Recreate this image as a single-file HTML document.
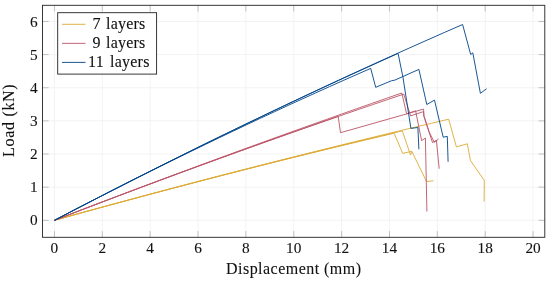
<!DOCTYPE html>
<html><head><meta charset="utf-8"><title>Load vs Displacement</title>
<style>html,body{margin:0;padding:0;background:#fff}svg text{font-family:"Liberation Serif", serif;fill:#111;stroke:#111;stroke-width:0.1px}</style>
</head><body>
<svg width="550" height="281" viewBox="0 0 550 281" style="display:block">
<rect width="550" height="281" fill="#fff"/>
<path d="M54.45,5.3V237.3M102.31,5.3V237.3M150.17,5.3V237.3M198.03,5.3V237.3M245.89,5.3V237.3M293.75,5.3V237.3M341.61,5.3V237.3M389.47,5.3V237.3M437.33,5.3V237.3M485.19,5.3V237.3M533.05,5.3V237.3M42.45,220.30H544.8M42.45,187.16H544.8M42.45,154.02H544.8M42.45,120.88H544.8M42.45,87.74H544.8M42.45,54.60H544.8M42.45,21.46H544.8" stroke="#ebebeb" stroke-width="0.6" fill="none"/>
<path d="M54.45,237.3v-6.2M54.45,5.3v6.2M102.31,237.3v-6.2M102.31,5.3v6.2M150.17,237.3v-6.2M150.17,5.3v6.2M198.03,237.3v-6.2M198.03,5.3v6.2M245.89,237.3v-6.2M245.89,5.3v6.2M293.75,237.3v-6.2M293.75,5.3v6.2M341.61,237.3v-6.2M341.61,5.3v6.2M389.47,237.3v-6.2M389.47,5.3v6.2M437.33,237.3v-6.2M437.33,5.3v6.2M485.19,237.3v-6.2M485.19,5.3v6.2M533.05,237.3v-6.2M533.05,5.3v6.2M42.45,220.30h6.2M544.8,220.30h-6.2M42.45,187.16h6.2M544.8,187.16h-6.2M42.45,154.02h6.2M544.8,154.02h-6.2M42.45,120.88h6.2M544.8,120.88h-6.2M42.45,87.74h6.2M544.8,87.74h-6.2M42.45,54.60h6.2M544.8,54.60h-6.2M42.45,21.46h6.2M544.8,21.46h-6.2" stroke="#949494" stroke-width="0.55" fill="none"/>
<path d="M54.45,220.30 L69.22,216.20 L83.98,212.14 L98.75,208.09 L113.52,204.08 L128.29,200.10 L143.05,196.14 L157.82,192.22 L172.59,188.32 L187.36,184.44 L202.12,180.60 L216.89,176.79 L231.66,173.00 L246.43,169.24 L261.19,165.51 L275.96,161.81 L290.73,158.13 L305.50,154.49 L320.26,150.87 L335.03,147.28 L349.80,143.72 L364.57,140.18 L379.33,136.68 L394.10,133.20 L402.70,153.40 L411.70,151.30" stroke="#DDAA33" stroke-width="0.9" fill="none" stroke-linejoin="round"/>
<path d="M54.45,220.30 L69.57,216.10 L84.70,211.94 L99.82,207.80 L114.95,203.69 L130.07,199.60 L145.19,195.55 L160.32,191.52 L175.44,187.52 L190.57,183.55 L205.69,179.61 L220.81,175.69 L235.94,171.80 L251.06,167.94 L266.18,164.11 L281.31,160.31 L296.43,156.54 L311.56,152.79 L326.68,149.07 L341.80,145.38 L356.93,141.72 L372.05,138.08 L387.18,134.48 L402.30,130.90 L410.50,155.00 L411.80,151.30 L426.50,181.50 L433.50,180.80" stroke="#DDAA33" stroke-width="0.9" fill="none" stroke-linejoin="round"/>
<path d="M54.45,220.30 L71.59,215.54 L88.73,210.82 L105.87,206.13 L123.02,201.48 L140.16,196.85 L157.30,192.26 L174.44,187.70 L191.58,183.17 L208.72,178.68 L225.86,174.22 L243.00,169.79 L260.15,165.40 L277.29,161.03 L294.43,156.70 L311.57,152.40 L328.71,148.14 L345.85,143.91 L362.99,139.71 L380.13,135.54 L397.28,131.41 L414.42,127.31 L431.56,123.24 L448.70,119.20 L456.40,146.90 L467.30,143.80 L470.50,160.70 L484.30,180.40 L484.10,201.60" stroke="#DDAA33" stroke-width="0.9" fill="none" stroke-linejoin="round"/>
<path d="M54.45,220.30 L69.55,214.48 L84.65,208.68 L99.76,202.91 L114.86,197.17 L129.96,191.45 L145.06,185.76 L160.17,180.09 L175.27,174.45 L190.37,168.84 L205.47,163.25 L220.57,157.69 L235.68,152.16 L250.78,146.65 L265.88,141.17 L280.98,135.71 L296.08,130.28 L311.19,124.88 L326.29,119.50 L341.39,114.15 L356.49,108.82 L371.60,103.52 L386.70,98.25 L401.80,93.00 L406.60,113.80 L415.60,110.80 L421.60,140.70 L425.40,138.00 L426.90,211.50" stroke="#BB5566" stroke-width="0.9" fill="none" stroke-linejoin="round"/>
<path d="M54.45,220.30 L69.64,214.45 L84.83,208.63 L100.02,202.84 L115.21,197.09 L130.40,191.37 L145.58,185.69 L160.77,180.03 L175.96,174.41 L191.15,168.83 L206.34,163.27 L221.53,157.75 L236.72,152.27 L251.91,146.81 L267.10,141.39 L282.29,136.00 L297.48,130.65 L312.67,125.33 L327.85,120.04 L343.04,114.79 L358.23,109.56 L373.42,104.38 L388.61,99.22 L403.80,94.10 L410.60,115.90 L423.50,111.60 L423.90,116.00 L429.00,132.00 L432.50,142.50 L436.40,140.40 L439.20,168.70" stroke="#BB5566" stroke-width="0.9" fill="none" stroke-linejoin="round"/>
<path d="M54.45,220.30 L66.79,215.54 L79.12,210.81 L91.46,206.10 L103.80,201.41 L116.13,196.74 L128.47,192.09 L140.81,187.46 L153.15,182.86 L165.48,178.28 L177.82,173.72 L190.16,169.18 L202.49,164.66 L214.83,160.16 L227.17,155.69 L239.50,151.24 L251.84,146.81 L264.18,142.40 L276.52,138.01 L288.85,133.65 L301.19,129.30 L313.53,124.98 L325.86,120.68 L338.20,116.40 L340.50,132.70 L423.60,109.10 L423.90,116.00 L429.20,132.00 L434.30,142.30 L438.60,139.00" stroke="#BB5566" stroke-width="0.9" fill="none" stroke-linejoin="round"/>
<path d="M54.45,220.30 L68.20,213.13 L81.95,206.01 L95.70,198.94 L109.45,191.92 L123.20,184.96 L136.95,178.04 L150.70,171.18 L164.45,164.37 L178.20,157.61 L191.95,150.90 L205.70,144.25 L219.45,137.64 L233.20,131.09 L246.95,124.59 L260.70,118.14 L274.45,111.74 L288.20,105.39 L301.95,99.10 L315.70,92.86 L329.45,86.66 L343.20,80.52 L356.95,74.44 L370.70,68.40 L375.70,87.30 L391.30,80.80 L394.90,80.10 L418.90,69.40 L426.80,104.50 L434.50,100.10 L443.20,137.20 L447.30,136.40 L448.10,161.80" stroke="#004488" stroke-width="0.9" fill="none" stroke-linejoin="round"/>
<path d="M54.45,220.30 L69.39,212.50 L84.33,204.76 L99.27,197.06 L114.22,189.41 L129.16,181.81 L144.10,174.26 L159.04,166.75 L173.98,159.30 L188.92,151.90 L203.86,144.54 L218.80,137.24 L233.75,129.98 L248.69,122.77 L263.63,115.61 L278.57,108.50 L293.51,101.44 L308.45,94.43 L323.39,87.47 L338.33,80.56 L353.28,73.70 L368.22,66.88 L383.16,60.12 L398.10,53.40 L403.00,77.50 L410.90,128.40 L417.90,127.50 L418.90,149.30" stroke="#004488" stroke-width="0.9" fill="none" stroke-linejoin="round"/>
<path d="M54.45,220.30 L72.20,211.04 L89.94,201.86 L107.69,192.74 L125.43,183.68 L143.18,174.70 L160.92,165.78 L178.67,156.93 L196.42,148.14 L214.16,139.43 L231.91,130.78 L249.65,122.20 L267.40,113.69 L285.14,105.24 L302.89,96.86 L320.63,88.55 L338.38,80.31 L356.13,72.13 L373.87,64.03 L391.62,55.99 L409.36,48.01 L427.11,40.11 L444.85,32.27 L462.60,24.50 L470.70,54.50 L472.80,52.80 L480.40,93.30 L486.50,88.80" stroke="#004488" stroke-width="0.9" fill="none" stroke-linejoin="round"/>
<rect x="42.45" y="5.3" width="502.34999999999997" height="232.0" fill="none" stroke="#222" stroke-width="0.9"/>
<text x="54.45" y="252.7" font-size="15.3" text-anchor="middle">0</text>
<text x="102.31" y="252.7" font-size="15.3" text-anchor="middle">2</text>
<text x="150.17" y="252.7" font-size="15.3" text-anchor="middle">4</text>
<text x="198.03" y="252.7" font-size="15.3" text-anchor="middle">6</text>
<text x="245.89" y="252.7" font-size="15.3" text-anchor="middle">8</text>
<text x="293.75" y="252.7" font-size="15.3" text-anchor="middle">10</text>
<text x="341.61" y="252.7" font-size="15.3" text-anchor="middle">12</text>
<text x="389.47" y="252.7" font-size="15.3" text-anchor="middle">14</text>
<text x="437.33" y="252.7" font-size="15.3" text-anchor="middle">16</text>
<text x="485.19" y="252.7" font-size="15.3" text-anchor="middle">18</text>
<text x="533.05" y="252.7" font-size="15.3" text-anchor="middle">20</text>
<text x="37.6" y="225.40" font-size="15.3" text-anchor="end">0</text>
<text x="37.6" y="192.26" font-size="15.3" text-anchor="end">1</text>
<text x="37.6" y="159.12" font-size="15.3" text-anchor="end">2</text>
<text x="37.6" y="125.98" font-size="15.3" text-anchor="end">3</text>
<text x="37.6" y="92.84" font-size="15.3" text-anchor="end">4</text>
<text x="37.6" y="59.70" font-size="15.3" text-anchor="end">5</text>
<text x="37.6" y="26.56" font-size="15.3" text-anchor="end">6</text>
<text x="293.5" y="274.3" font-size="16" text-anchor="middle" textLength="135" lengthAdjust="spacing">Displacement (mm)</text>
<text transform="translate(14.4,120.6) rotate(-90)" font-size="16" text-anchor="middle" textLength="72.6" lengthAdjust="spacing">Load (kN)</text>
<rect x="57.7" y="12.7" width="98.9" height="61.4" fill="#fff" stroke="#222" stroke-width="0.9"/>
<path d="M62.0,24.30H85.5" stroke="#DDAA33" stroke-width="0.9"/>
<text x="92.5" y="29.30" font-size="16" letter-spacing="0.22" word-spacing="1.1">7 layers</text>
<path d="M62.0,43.35H85.5" stroke="#BB5566" stroke-width="0.9"/>
<text x="92.5" y="48.35" font-size="16" letter-spacing="0.22" word-spacing="1.1">9 layers</text>
<path d="M62.0,62.40H85.5" stroke="#004488" stroke-width="0.9"/>
<text x="88.1" y="67.40" font-size="16" letter-spacing="0.22" word-spacing="1.9">11 layers</text>
</svg>
</body></html>
